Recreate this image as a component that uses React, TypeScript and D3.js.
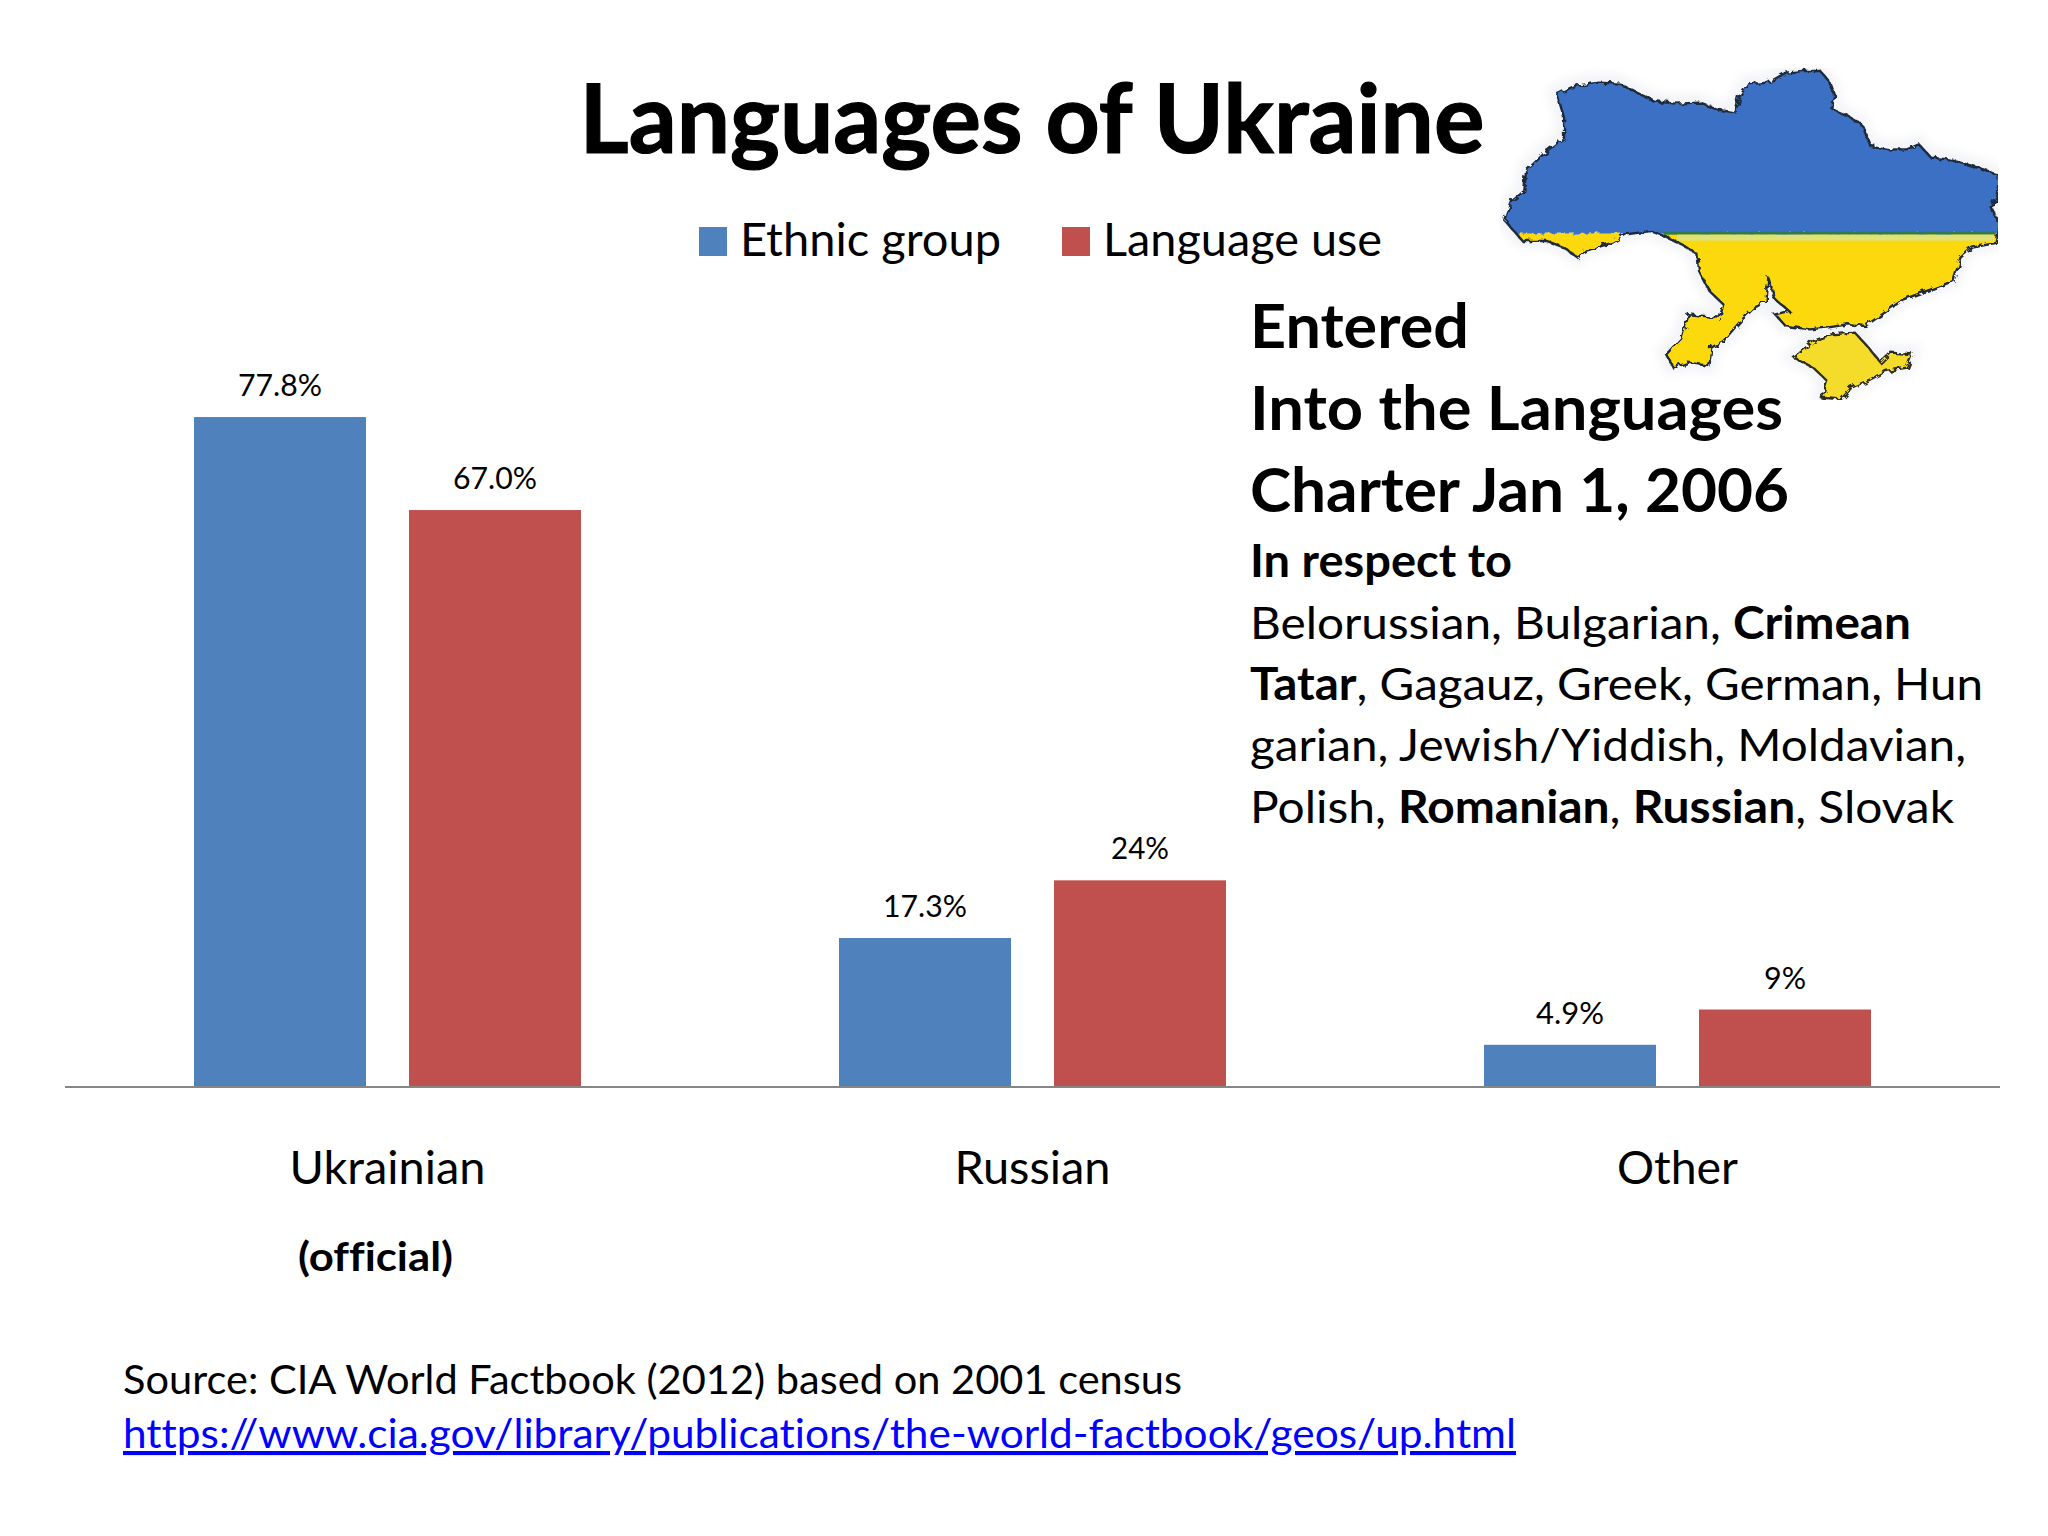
import React from 'react';
import * as d3 from 'd3';

const categories = ['Ukrainian', 'Russian', 'Other'];
const seriesNames = ['Ethnic group', 'Language use'];
const ethnicGroup = [77.8, 17.3, 4.9];
const languageUse = [67.0, 24, 9];
const ethnicLabels = ['77.8%', '17.3%', '4.9%'];
const languageLabels = ['67.0%', '24%', '9%'];
const seriesColors = ['#4f81bd', '#c0504d'];

const labelWidths: Record<string, number> = {
  '77.8%': 84, '67.0%': 84, '17.3%': 84, '4.9%': 68, '24%': 58, '9%': 42,
};

// outline of the map picture, in crop pixels of the flag image
const mainland: [number, number][] = [
  [220, 130], [270, 105], [340, 95], [400, 98], [450, 125], [500, 150], [560, 158], [630, 155],
  [680, 175], [735, 185], [745, 140], [770, 100], [830, 95], [880, 65], [930, 60], [980, 60],
  [1005, 90], [1020, 130], [1015, 175], [1060, 195], [1100, 220], [1125, 285], [1180, 295],
  [1230, 295], [1265, 280], [1300, 320], [1350, 325], [1420, 345], [1495, 370], [1498, 420],
  [1475, 470], [1498, 520], [1490, 575], [1420, 590], [1385, 620], [1365, 690], [1300, 715],
  [1220, 745], [1160, 790], [1110, 825], [1060, 820], [1000, 830], [950, 835], [880, 825],
  [850, 790], [890, 780], [850, 745], [830, 680], [825, 750], [790, 770], [750, 810], [700, 870],
  [665, 890], [660, 945], [600, 935], [555, 950], [535, 910], [580, 860], [600, 790], [690, 800],
  [700, 760], [660, 720], [630, 660], [625, 610], [580, 580], [530, 555], [490, 540], [420, 550],
  [380, 575], [300, 600], [280, 620], [240, 590], [190, 570], [120, 570], [70, 510], [90, 450],
  [125, 420], [130, 360], [190, 300], [240, 260], [240, 200],
];
const crimea: [number, number][] = [
  [905, 920], [960, 870], [1010, 850], [1080, 845], [1120, 890], [1155, 935], [1185, 905],
  [1245, 910], [1230, 950], [1170, 960], [1125, 985], [1070, 1010], [1040, 1045], [985, 1040],
  [1000, 990], [960, 950],
];

type Run = { t: string; b?: boolean };
const noteLines: { runs: Run[]; size: number; y: number; w: number }[] = [
  { runs: [{ t: 'Entered', b: true }], size: 62, y: 348, w: 219 },
  { runs: [{ t: 'Into the Languages', b: true }], size: 62, y: 429.5, w: 533 },
  { runs: [{ t: 'Charter Jan 1, 2006', b: true }], size: 62, y: 511.5, w: 539 },
  { runs: [{ t: 'In respect to', b: true }], size: 45, y: 577, w: 262 },
  { runs: [{ t: 'Belorussian, Bulgarian, ' }, { t: 'Crimean', b: true }], size: 45, y: 639, w: 661 },
  { runs: [{ t: 'Tatar', b: true }, { t: ', Gagauz, Greek, German, Hun' }], size: 45, y: 700, w: 733 },
  { runs: [{ t: 'garian, Jewish/Yiddish, Moldavian,' }], size: 45, y: 761, w: 716 },
  { runs: [{ t: 'Polish, ' }, { t: 'Romanian', b: true }, { t: ', ' }, { t: 'Russian', b: true }, { t: ', Slovak' }], size: 45, y: 823, w: 704 },
];

const font = 'Lato, sans-serif';
const noLigatures = { fontVariantLigatures: 'none' } as React.CSSProperties;

function Label({ x, y, w, size, bold, anchor, fill, deco, heavy, children }: any) {
  return (
    <text
      x={x}
      y={y}
      fontSize={size}
      fontFamily={font}
      fontWeight={bold ? 700 : 400}
      textAnchor={anchor || 'start'}
      fill={fill || '#000'}
      stroke={heavy ? '#000' : undefined}
      strokeWidth={heavy || undefined}
      textDecoration={deco}
      textLength={w}
      lengthAdjust="spacingAndGlyphs"
      style={noLigatures}
    >
      {children}
    </text>
  );
}

export default function App() {
  const x0 = d3.scaleBand<string>().domain(categories).range([65, 2000]);
  const x1 = d3.scaleBand<string>()
    .domain(seriesNames)
    .range([0, 387])
    .paddingInner(0.2);
  const y = d3.scaleLinear().domain([0, 90]).range([1087, 312]);
  const barOffset = (x0.bandwidth() - x1.range()[1]) / 2;

  const mapX = d3.scaleLinear().domain([0, 1560]).range([1480, 2020]);
  const mapY = d3.scaleLinear().domain([0, 1110]).range([50, 420]);
  const mapLine = d3.line<[number, number]>()
    .x(d => mapX(d[0]))
    .y(d => mapY(d[1]))
    .curve(d3.curveLinearClosed);
  const splitY = mapY(548);

  return (
    <svg
      width={2048}
      height={1536}
      viewBox="0 0 2048 1536"
      style={{ position: 'absolute', left: 0, top: 0, background: '#fff' }}
    >
      <defs>
        <clipPath id="mapTop">
          <rect x={1480} y={50} width={540} height={splitY - 50} />
        </clipPath>
        <clipPath id="mapBottom">
          <rect x={1480} y={splitY} width={540} height={370} />
        </clipPath>
        <clipPath id="mapFrame">
          <rect x={1500} y={68} width={498} height={332} />
        </clipPath>
        {/* rough, low-res look of the pasted picture */}
        <filter id="rough" x="-5%" y="-5%" width="110%" height="110%">
          <feTurbulence type="fractalNoise" baseFrequency="0.16" numOctaves="2" seed="4" result="n" />
          <feDisplacementMap in="SourceGraphic" in2="n" scale="7" />
          <feGaussianBlur stdDeviation="0.7" />
        </filter>
        <filter id="halo" x="-10%" y="-10%" width="120%" height="120%">
          <feGaussianBlur stdDeviation="5" />
        </filter>
      </defs>

      {/* map */}
      <g clipPath="url(#mapFrame)">
        <g filter="url(#halo)" opacity={0.45}>
          <path d={mapLine(mainland) || ''} fill="none" stroke="#e4e6ee" strokeWidth={16} />
          <path d={mapLine(crimea) || ''} fill="none" stroke="#e4e6ee" strokeWidth={16} />
        </g>
        <g filter="url(#rough)" transform="translate(1,1)">
          <path d={mapLine(mainland) || ''} fill="#3a6fc4" clipPath="url(#mapTop)" />
          <path d={mapLine(mainland) || ''} fill="#fbd90e" clipPath="url(#mapBottom)" />
          <path d={mapLine(crimea) || ''} fill="#f6dc2a" />
          <path d={mapLine(mainland) || ''} fill="none" stroke="#1f2a3a" strokeWidth={2.4} />
          <path d={mapLine(crimea) || ''} fill="none" stroke="#2e2e1e" strokeWidth={2.4} />
        </g>
        <rect x={mapX(530)} y={splitY - 1} width={mapX(1490) - mapX(530)} height={3} fill="#2f7a50" />
        <rect x={mapX(570)} y={splitY + 2} width={mapX(1485) - mapX(570)} height={6} fill="#dfe276" />
      </g>

      <Label x={1032} y={153} w={905} size={96} bold anchor="middle" heavy={1.2}>Languages of Ukraine</Label>

      {/* legend */}
      {seriesNames.map((name, i) => (
        <g key={name}>
          <rect x={[699, 1062][i]} y={227} width={28} height={29} fill={seriesColors[i]} />
          <Label x={[740, 1103][i]} y={256} w={[261, 279][i]} size={47}>{name}</Label>
        </g>
      ))}

      {/* bars */}
      {categories.map((cat, c) => {
        const vals = [ethnicGroup[c], languageUse[c]];
        const labs = [ethnicLabels[c], languageLabels[c]];
        return (
          <g key={cat} transform={`translate(${(x0(cat) || 0) + barOffset},0)`}>
            {seriesNames.map((name, s) => (
              <g key={name}>
                <rect
                  x={x1(name)}
                  y={y(vals[s])}
                  width={x1.bandwidth()}
                  height={y(0) - y(vals[s])}
                  fill={seriesColors[s]}
                />
                <Label
                  x={(x1(name) || 0) + x1.bandwidth() / 2}
                  y={y(vals[s]) - 21}
                  w={labelWidths[labs[s]]}
                  size={30}
                  anchor="middle"
                >
                  {labs[s]}
                </Label>
              </g>
            ))}
          </g>
        );
      })}
      <line x1={65} x2={2000} y1={y(0)} y2={y(0)} stroke="#868686" strokeWidth={2} />

      {/* category labels */}
      {categories.map((cat, c) => (
        <Label
          key={cat}
          x={(x0(cat) || 0) + x0.bandwidth() / 2}
          y={1184}
          w={[196, 156, 121][c]}
          size={46}
          anchor="middle"
        >
          {cat}
        </Label>
      ))}
      <Label x={375.5} y={1271} w={155} size={41} bold anchor="middle">(official)</Label>

      {/* side note */}
      {noteLines.map(line => (
        <text
          key={line.y}
          x={1250}
          y={line.y}
          fontSize={line.size}
          fontFamily={font}
          textLength={line.w}
          lengthAdjust="spacingAndGlyphs"
          style={noLigatures}
        >
          {line.runs.map((r, i) => (
            <tspan key={i} fontWeight={r.b ? 700 : 400}>{r.t}</tspan>
          ))}
        </text>
      ))}

      {/* source */}
      <Label x={123} y={1394} w={1059} size={41}>Source: CIA World Factbook (2012) based on 2001 census</Label>
      <Label x={123} y={1448} w={1393} size={41} fill="#0000ff" deco="underline">
        https://www.cia.gov/library/publications/the-world-factbook/geos/up.html
      </Label>
    </svg>
  );
}
